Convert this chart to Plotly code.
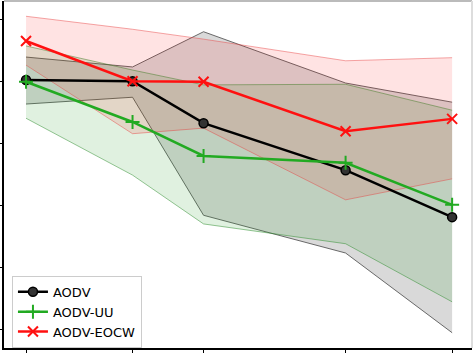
import plotly.graph_objects as go

x_vals = [3, 6, 8, 12, 15]

aodv = [4.03, 4.01, 3.33, 2.57, 1.81]
aodv_lo = [3.64, 3.75, 1.84, 1.23, -0.06]
aodv_hi = [4.40, 4.24, 4.81, 3.98, 3.67]

uu = [4.00, 3.35, 2.80, 2.69, 2.01]
uu_lo = [3.41, 2.49, 1.70, 1.38, 0.44]
uu_hi = [4.58, 4.19, 3.95, 3.96, 3.54]

eocw = [4.66, 4.01, 4.00, 3.20, 3.40]
eocw_lo = [4.27, 3.16, 3.25, 2.09, 2.43]
eocw_hi = [5.06, 4.85, 4.69, 4.34, 4.39]

y_ticks = [0, 1, 2, 3, 4, 5]

fig = go.Figure()

bands = [
    (aodv_lo, aodv_hi, "rgba(0,0,0,0.15)", "rgba(60,60,60,0.75)"),
    (uu_lo, uu_hi, "rgba(44,160,44,0.15)", "rgba(44,140,44,0.5)"),
    (eocw_lo, eocw_hi, "rgba(255,0,0,0.11)", "rgba(230,60,60,0.45)"),
]
for lo, hi, fc, lc in bands:
    fig.add_trace(go.Scatter(x=x_vals, y=lo, mode="lines", line=dict(color=lc, width=1),
                             showlegend=False, hoverinfo="skip"))
    fig.add_trace(go.Scatter(x=x_vals, y=hi, mode="lines", line=dict(color=lc, width=1),
                             fill="tonexty", fillcolor=fc, showlegend=False, hoverinfo="skip"))

fig.add_trace(go.Scatter(x=x_vals, y=aodv, name="AODV", mode="lines+markers",
                         line=dict(color="black", width=2.5),
                         marker=dict(symbol="circle", size=9, color="#333333",
                                     line=dict(color="black", width=1.5))))
fig.add_trace(go.Scatter(x=x_vals, y=uu, name="AODV-UU", mode="lines+markers",
                         line=dict(color="#22aa22", width=2.5),
                         marker=dict(symbol="cross-thin", size=10, color="#22aa22",
                                     line=dict(color="#22aa22", width=2))))
fig.add_trace(go.Scatter(x=x_vals, y=eocw, name="AODV-EOCW", mode="lines+markers",
                         line=dict(color="#ff1010", width=2.5),
                         marker=dict(symbol="x-thin", size=10, color="#ff1010",
                                     line=dict(color="#ff1010", width=2))))

fig.update_layout(
    width=474, height=353,
    margin=dict(l=4, r=2, t=1, b=5),
    paper_bgcolor="white", plot_bgcolor="white",
    font=dict(family="DejaVu Sans", size=13, color="black"),
    legend=dict(x=0.017, y=0.208, xanchor="left", yanchor="top", traceorder="normal",
                bgcolor="rgba(255,255,255,0.85)", bordercolor="#cccccc", borderwidth=1,
                font=dict(size=13), tracegroupgap=0),
    xaxis=dict(range=[2.38, 15.56], tickvals=x_vals, showticklabels=False,
               ticks="outside", ticklen=5, tickcolor="black", showgrid=False,
               zeroline=False, showline=True, linecolor="black", linewidth=1.5),
    yaxis=dict(range=[-0.307, 5.307], tickvals=y_ticks, showticklabels=False,
               ticks="outside", ticklen=4, tickcolor="black", showgrid=False,
               zeroline=False, showline=True, linecolor="black", linewidth=1.5),
    shapes=[
        dict(type="line", xref="paper", yref="paper", x0=0, x1=1, y0=1, y1=1,
             line=dict(color="#bbbbbb", width=2)),
        dict(type="line", xref="paper", yref="paper", x0=1, x1=1, y0=0, y1=1,
             line=dict(color="#dddddd", width=2)),
    ],
)

fig.write_html("out.html")
